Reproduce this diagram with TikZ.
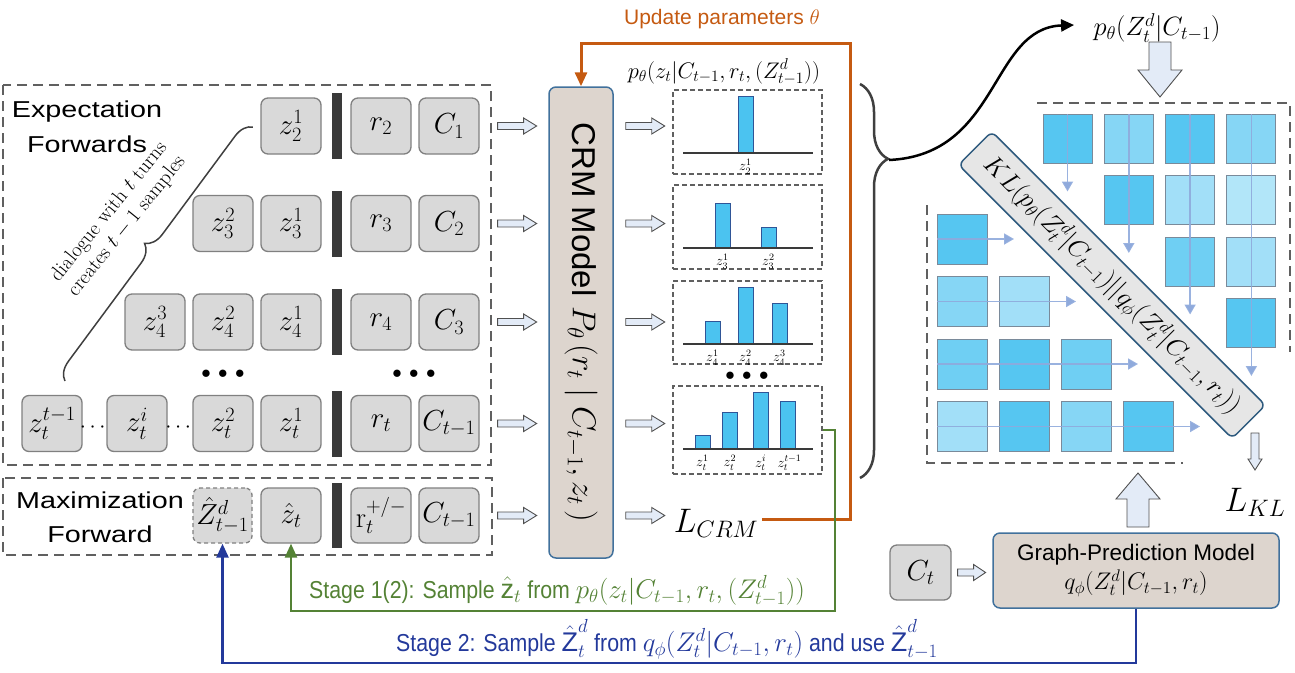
\RequirePackage{fix-cm}
\documentclass[tikz,border=0pt]{standalone}
\usepackage{amsmath}
\usepackage{fontspec}
\setsansfont{Liberation Sans}
\newfontfamily\stagefont[FakeStretch=0.87]{Liberation Sans}
\newfontfamily\widesf[FakeStretch=1.25]{Liberation Sans}
\usetikzlibrary{positioning,calc,arrows.meta,decorations.pathreplacing}

\definecolor{boxfill}{HTML}{D9D9D9}
\definecolor{boxline}{HTML}{808080}
\definecolor{bardark}{HTML}{3A3A3A}
\definecolor{framegray}{HTML}{606060}
\definecolor{modelfill}{HTML}{DDD5CE}
\definecolor{modelline}{HTML}{41719C}
\definecolor{arrfill}{HTML}{E3EBF7}
\definecolor{arrline}{HTML}{505050}
\definecolor{updorange}{HTML}{C55A11}
\definecolor{stagegreen}{HTML}{548235}
\definecolor{stageblue}{HTML}{23399B}
\definecolor{barcyan}{HTML}{4BC3F0}
\definecolor{barline}{HTML}{2F5597}
\definecolor{flowblue}{HTML}{8FAADC}
\definecolor{klfill}{HTML}{E6E6E6}
\definecolor{klline}{HTML}{2E5A7E}
\definecolor{bracegray}{HTML}{3F3F3F}
\definecolor{cellline}{HTML}{7A8A9A}
\definecolor{cellA}{HTML}{56C6F1}
\definecolor{cellB}{HTML}{6FCFF3}
\definecolor{cellC}{HTML}{86D6F5}
\definecolor{cellD}{HTML}{A2DFF8}
\definecolor{cellE}{HTML}{B2E6F9}

\tikzset{
  tok/.style={draw=boxline, fill=boxfill, rounded corners=7pt, line width=1.3pt,
    minimum width=60pt, minimum height=56pt, inner sep=0pt, font=\fontsize{29}{30}\selectfont},
  tokdash/.style={tok, dash pattern=on 4pt off 3pt},
  divbar/.style={fill=bardark, minimum width=10pt, minimum height=66pt, inner sep=0pt},
  frame/.style={draw=framegray, line width=2.2pt, dash pattern=on 10pt off 6pt},
  histbox/.style={draw=framegray, line width=1.1pt, dash pattern=on 5pt off 3pt,
    minimum width=149pt, inner sep=0pt},
  model/.style={draw=modelline, fill=modelfill, line width=1.5pt, rounded corners=7pt, inner sep=0pt},
  hollow/.style={draw=arrline, fill=arrfill, line width=0.9pt, line join=miter},
  histbar/.style={fill=barcyan, draw=barline, line width=0.8pt},
  barlabel/.style={font=\fontsize{14}{14}\selectfont, inner sep=0pt},
  dotrow/.style={font=\fontsize{19}{19}\selectfont, inner sep=0pt},
  cell/.style={draw=cellline, line width=1pt},
  flow/.style={draw=flowblue, draw opacity=0.9, line width=1.8pt, -{Triangle[width=11pt,length=10pt]}},
  feedback/.style={line width=3pt, -{Triangle[width=12pt,length=14pt]}},
}

% hollow block arrow: start, angle, length, half shaft, half head, head length
\newcommand{\hollowarr}[6]{%
  \draw[hollow, shift={#1}, rotate=#2] (0,-#4) -- ({#3-#6},-#4) -- ({#3-#6},-#5) -- (#3,0)
    -- ({#3-#6},#5) -- ({#3-#6},#4) -- (0,#4) -- cycle;}
\newcommand{\smallarr}[1]{\hollowarr{#1}{0}{39}{3.5}{8}{13}}
\newcommand{\stagemath}[1]{{\fontsize{27}{28}\selectfont$#1$}}

\begin{document}
\begin{tikzpicture}[x=1pt, y=-1pt]
\useasboundingbox (0,0) rectangle (1295,672);

% left panel
\draw[frame] (3,85) rectangle (491,465);
\draw[frame] (3,478) rectangle (492,555);
\node[font=\widesf\fontsize{23}{35}\selectfont, align=center] (exptxt) at (87,127) {Expectation\\Forwards};
\node[font=\widesf\fontsize{23}{34}\selectfont, align=center] (maxtxt) at (100,517) {Maximization\\Forward};

\node[tok] (z21) at (291,126) {$z_2^1$};
\node[divbar] (bar1) at (337,126) {};
\node[tok] (r2) at (381,126) {$r_2$};
\node[tok] (c1) at (449,126) {$C_1$};

\node[tok] (z32) at (223,223.5) {$z_3^2$};
\node[tok] (z31) at (291,223.5) {$z_3^1$};
\node[divbar] (bar2) at (337,223.5) {};
\node[tok] (r3) at (381,223.5) {$r_3$};
\node[tok] (c2) at (449,223.5) {$C_2$};

\node[tok] (z43) at (155,322) {$z_4^3$};
\node[tok] (z42) at (223,322) {$z_4^2$};
\node[tok] (z41) at (291,322) {$z_4^1$};
\node[divbar] (bar3) at (337,322) {};
\node[tok] (r4) at (381,322) {$r_4$};
\node[tok] (c3) at (449,322) {$C_3$};

\node[dotrow] (dotsz) at (223,374) {$\bullet\,\bullet\,\bullet$};
\node[dotrow] (dotsr) at (414,374) {$\bullet\,\bullet\,\bullet$};

\node[tok] (ztl) at (52,423.5) {$z_t^{t-1}$};
\node[font=\fontsize{22}{24}\selectfont, inner sep=0pt] (dta) at (94.5,428) {$\cdots$};
\node[tok] (zti) at (137,423.5) {$z_t^i$};
\node[font=\fontsize{22}{24}\selectfont, inner sep=0pt] (dtb) at (180,428) {$\cdots$};
\node[tok] (zt2) at (223,423.5) {$z_t^2$};
\node[tok] (zt1) at (291,423.5) {$z_t^1$};
\node[divbar] (bar4) at (337,423.5) {};
\node[tok] (rt) at (381,423.5) {$r_t$};
\node[tok] (ctm) at (449,423.5) {$C_{t-1}$};

\node[tokdash, minimum width=59pt, minimum height=55pt] (zhd) at (222.5,515.5) {$\hat{Z}^d_{t-1}$};
\node[tok, minimum height=55pt] (zh) at (291,515.5) {$\hat{z}_t$};
\node[divbar, minimum height=65pt] (bar5) at (337,515.5) {};
\node[tok, minimum height=55pt] (rpm) at (381,515.5) {$\mathrm{r}_t^{+/-}$};
\node[tok, minimum height=55pt] (cmx) at (449,515.5) {$C_{t-1}$};

\draw[decorate, decoration={brace, amplitude=18pt}, line width=1.5pt, draw=bracegray] (65,381) -- (253,127);
\node[rotate=51, align=center, font=\fontsize{20.5}{23}\selectfont] (turns) at (118,219) {dialogue with $t$ turns\\creates $t-1$ samples};

% CRM model
\node[model, rotate=-90, minimum width=471pt, minimum height=64pt, font=\fontsize{33}{35}\selectfont] (crm) at (581,322.5)
  {{\sffamily CRM Model} $P_\theta\,(r_t \mid C_{t-1}, z_t\,)$};
\foreach \n in {c1,c2,c3,ctm,cmx}
  \smallarr{($(\n.east)+(18,0)$)};
\foreach \n in {c1,c2,c3,ctm,cmx}
  \smallarr{($(crm.north |- \n)+(12,0)$)};

\node[font=\fontsize{22.5}{24}\selectfont] (plabel) at (724,72) {$p_\theta(z_t|C_{t-1}, r_t, (Z^d_{t-1}))$};
\node[histbox, minimum height=84pt] (h1) at (747.5,132) {};
\node[histbox, minimum height=84pt] (h2) at (747.5,227) {};
\node[histbox, minimum height=83pt] (h3) at (747.5,322.5) {};
\node[histbox, minimum height=88pt] (h4) at (747.5,430) {};
\node[dotrow] (dotsh) at (747,376) {$\bullet\,\bullet\,\bullet$};

\foreach \xa/\tp in {738/96} \filldraw[histbar] (\xa,\tp) rectangle ++(15,{153-\tp});
\foreach \xa/\tp in {715/203, 761/227} \filldraw[histbar] (\xa,\tp) rectangle ++(15,{248-\tp});
\foreach \xa/\tp in {705/321, 738/287, 772/303} \filldraw[histbar] (\xa,\tp) rectangle ++(15,{344-\tp});
\foreach \xa/\tp in {695/435, 722/412, 753/392, 780/401} \filldraw[histbar] (\xa,\tp) rectangle ++(15,{449-\tp});
\foreach \yb in {153,248,344,449} \draw[bardark, line width=2.5pt] (683,\yb) -- (813,\yb);
\node[barlabel] at (745.5,167) {$z_2^1$};
\node[barlabel] at (722.5,262) {$z_3^1$};
\node[barlabel] at (768.5,262) {$z_3^2$};
\node[barlabel] at (712.5,358) {$z_4^1$};
\node[barlabel] at (745.5,358) {$z_4^2$};
\node[barlabel] at (779.5,358) {$z_4^3$};
\node[barlabel] at (702.5,463) {$z_t^1$};
\node[barlabel] at (730,463) {$z_t^2$};
\node[barlabel] at (760.5,463) {$z_t^i$};
\node[barlabel] at (789.5,463) {$z_t^{t-1}$};

\node[font=\fontsize{34}{36}\selectfont] (lcrm) at (716,523) {$L_{CRM}$};
\node[font=\sffamily\fontsize{21}{22}\selectfont, text=updorange] (upd) at (722,19) {Update parameters $\theta$};
\draw[feedback, updorange] ($(lcrm.east)+(0,-4)$) -| (850,43) -| (crm.west);

% right panel
\draw[decorate, decoration={brace, amplitude=28pt, aspect=0.19}, line width=2.5pt, draw=bracegray] (860,84) -- (860,478);
\coordinate (btip) at (889,160);
\node[font=\fontsize{26.5}{28}\selectfont] (pzd) at (1157,28) {$p_\theta(Z^d_t|C_{t-1})$};
\draw[line width=2.5pt, -{Triangle[width=12pt,length=13pt]}] (btip) .. controls (1000,155) and (990,28) .. ($(pzd.west)+(-16,-3)$);
\hollowarr{(1160,42)}{-90}{55}{11}{22}{27}

\draw[frame] (1037,103) -- (1290,103) -- (1290,352);
\draw[frame] (927,205) -- (927,463) -- (1183,463);

\foreach \c/\r/\col in {1/1/cellA, 2/1/cellC, 3/1/cellA, 4/1/cellC, 2/2/cellA, 3/2/cellD, 4/2/cellE, 3/3/cellB, 4/3/cellD, 4/4/cellA}
  \filldraw[cell, fill=\col] ({1043+(\c-1)*61.3},{114+(\r-1)*61.5}) rectangle ++(49,49);
\foreach \c in {1,...,4}
  \draw[flow] ({1067.5+(\c-1)*61.3},114) -- ++(0,{61.5*\c+16});

\foreach \r/\c/\col in {1/1/cellA, 2/1/cellC, 2/2/cellD, 3/1/cellB, 3/2/cellA, 3/3/cellB, 4/1/cellD, 4/2/cellA, 4/3/cellC, 4/4/cellA}
  \filldraw[cell, fill=\col] ({937+(\c-1)*62},{214+(\r-1)*62.5}) rectangle ++(50,50);
\foreach \r in {1,...,4}
  \draw[flow] (937,{239+(\r-1)*62.5}) -- ++({62*\r+15},0);

\node[draw=klline, fill=klfill, line width=1.5pt, rounded corners=6pt, rotate=-45, minimum width=387pt,
  minimum height=47pt, inner sep=0pt, font=\fontsize{26}{27}\selectfont] (kl) at (1112,285)
  {$KL(p_\theta(Z^d_t|C_{t-1})||q_\phi(Z^d_t|C_{t-1},r_t))$};
\hollowarr{(1255,433)}{-90}{37}{4}{7}{11}
\node[font=\fontsize{34}{36}\selectfont] (lkl) at (1255,502) {$L_{KL}$};

\node[model, minimum width=286pt, minimum height=75pt, align=center, font=\fontsize{22.5}{29}\selectfont] (gpm) at (1136,570.5)
  {{\sffamily Graph-Prediction Model}\\{\fontsize{24}{26}\selectfont$q_\phi(Z^d_t|C_{t-1}, r_t)$}};
\hollowarr{(1138,527)}{90}{54}{11}{22}{26}
\node[tok, minimum width=61pt, minimum height=55pt] (ct) at (920.5,572.5) {$C_t$};
\hollowarr{($(ct.east)+(6,0)$)}{0}{28}{3.5}{8}{12}

% sampling loops
\draw[feedback, stagegreen, line width=2.5pt] (h4.east) -- (835,430) -- (835,611) -| (zh.south);
\draw[feedback, stageblue, line width=2.5pt] (gpm.south) -- (gpm.south |- 0,663) -| (zhd.south);
\node[anchor=base west, inner sep=0pt, text=stagegreen, font=\stagefont\fontsize{24.5}{26}\selectfont] (st1) at (309,598)
  {Stage 1(2): Sample \stagemath{\hat{\textsf{z}}_t} from \stagemath{p_\theta(z_t|C_{t-1}, r_t, (Z^d_{t-1}))}};
\node[anchor=base west, inner sep=0pt, text=stageblue, font=\stagefont\fontsize{24.5}{26}\selectfont] (st2) at (396,651)
  {Stage 2: Sample \stagemath{\hat{\textsf{Z}}^d_t} from \stagemath{q_\phi(Z^d_t|C_{t-1}, r_t)} and use \stagemath{\hat{\textsf{Z}}^d_{t-1}}};
\end{tikzpicture}
\end{document}
